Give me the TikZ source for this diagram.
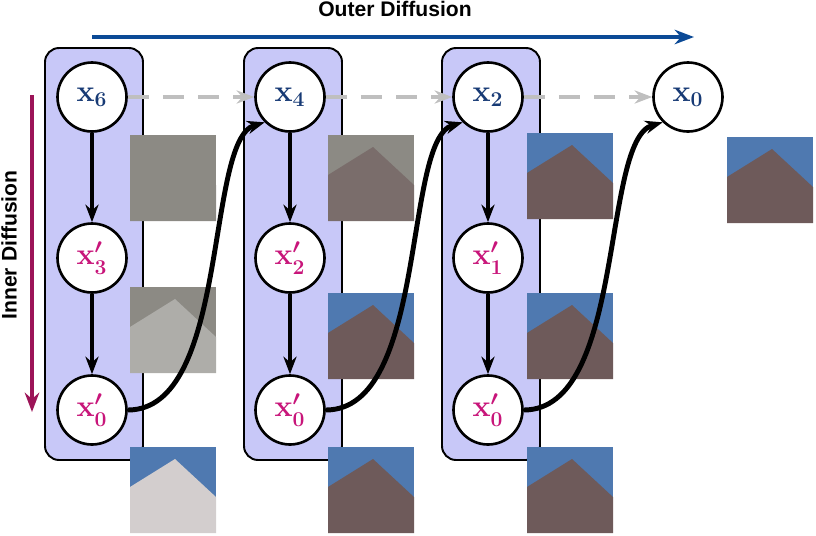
\documentclass[tikz,border=0pt]{standalone}
\usepackage{amsmath}
\usepackage{fontspec}
\newfontfamily\labelfont{Liberation Sans}
\usetikzlibrary{arrows.meta}
\definecolor{outerblue}{HTML}{0B4A96}
\definecolor{innerred}{HTML}{9C1458}
\definecolor{xblue}{HTML}{173A75}
\definecolor{xpink}{HTML}{C8157A}
\definecolor{boxfill}{HTML}{C8C8F8}
\definecolor{sky}{HTML}{4F79B0}
\definecolor{rock}{HTML}{6E5A5A}
\definecolor{noise}{HTML}{8C8A84}

\begin{document}
\begin{tikzpicture}[x=0.02cm,y=-0.02cm,
	state/.style={circle,line width=1.5pt,draw,fill=white,minimum size=1.38cm,inner sep=0pt,font=\LARGE\boldmath},
	column/.style={draw,line width=1.1pt,rounded corners=8pt,fill=boxfill},
	flow/.style={-{Stealth[length=10pt]},line width=2.8pt},
	skip/.style={-{Stealth[length=10pt]},line width=2.8pt,draw=black!25,dash pattern=on 12pt off 8pt}]

\useasboundingbox (0,0) rectangle (816,535);

% columns
\foreach \cx in {94,293,491}
	\draw[column] (\cx-49,48) rectangle (\cx+49,460);

% pictures
\foreach \px/\py/\sk/\mt in {130/135/noise/noise,328/135/noise/rock!60!noise,527/133/sky/rock,
	130/287/noise/noise!70!white,328/293/sky/rock,527/293/sky/rock,
	130/447/sky/white!70!rock,328/447/sky/rock,527/447/sky/rock,727/137/sky/rock} {
	\fill[\sk] (\px,\py) rectangle ++(86,86);
	\fill[\mt] (\px,\py+86) -- (\px,\py+40) -- (\px+45,\py+12) -- (\px+86,\py+50) -- (\px+86,\py+86) -- cycle;
}

% states
\node[state] (x6) at (92,97) {$\color{xblue}\mathbf{x}_6$};
\node[state] (a1) at (92,258) {$\color{xpink}\mathbf{x}'_3$};
\node[state] (b1) at (92,410) {$\color{xpink}\mathbf{x}'_0$};
\node[state] (x4) at (290,97) {$\color{xblue}\mathbf{x}_4$};
\node[state] (a2) at (290,258) {$\color{xpink}\mathbf{x}'_2$};
\node[state] (b2) at (290,410) {$\color{xpink}\mathbf{x}'_0$};
\node[state] (x2) at (488,97) {$\color{xblue}\mathbf{x}_2$};
\node[state] (a3) at (488,258) {$\color{xpink}\mathbf{x}'_1$};
\node[state] (b3) at (488,410) {$\color{xpink}\mathbf{x}'_0$};
\node[state] (x0) at (688,97) {$\color{xblue}\mathbf{x}_0$};

% inner steps
\draw[flow] (x6) -- (a1);
\draw[flow] (a1) -- (b1);
\draw[flow] (x4) -- (a2);
\draw[flow] (a2) -- (b2);
\draw[flow] (x2) -- (a3);
\draw[flow] (a3) -- (b3);

% outer skips
\draw[skip] (x6) -- (x4);
\draw[skip] (x4) -- (x2);
\draw[skip] (x2) -- (x0);

% hand-over curves
\draw[flow] (b1.east) .. controls (230,410) and (205,140) .. (x4.south west);
\draw[flow] (b2.east) .. controls (428,410) and (403,140) .. (x2.south west);
\draw[flow] (b3.east) .. controls (626,410) and (601,140) .. (x0.south west);

% axes
\coordinate (o1) at (92,37);
\coordinate (o2) at (694,37);
\draw[-{Stealth[length=11pt]},line width=2.8pt,outerblue] (o1) -- (o2);
\node[font=\labelfont\bfseries\large] (outer) at (395,9) {Outer Diffusion};
\coordinate (i1) at (32,95);
\coordinate (i2) at (32,412);
\draw[-{Stealth[length=11pt]},line width=2.8pt,innerred] (i1) -- (i2);
\node[font=\labelfont\bfseries\large,rotate=90] (inner) at (9,245) {Inner Diffusion};

\end{tikzpicture}
\end{document}
